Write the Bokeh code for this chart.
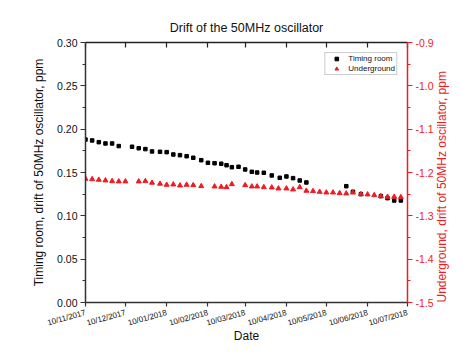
import numpy as np
import pandas as pd
from bokeh.plotting import figure
from bokeh.models import (Range1d, LinearAxis, DatetimeAxis, FixedTicker, DatetimeTickFormatter,
                          NumeralTickFormatter, Legend, LegendItem, CustomJSTickFormatter)
from bokeh.embed import file_html
from bokeh.resources import INLINE

# ---------------- data ----------------
start_date = "2017-11-10"
end_date = "2018-07-10"
tick_dates = ["2017-11-10", "2017-12-10", "2018-01-10", "2018-02-10", "2018-03-10",
              "2018-04-10", "2018-05-10", "2018-06-10", "2018-07-10"]
left_ticks = [0.00, 0.05, 0.10, 0.15, 0.20, 0.25, 0.30]
left_minor = [0.025, 0.075, 0.125, 0.175, 0.225, 0.275]
right_ticks = [-1.5, -1.4, -1.3, -1.2, -1.1, -1.0, -0.9]
right_minor = [-1.45, -1.35, -1.25, -1.15, -1.05, -0.95]

# days after start_date
timing_days = [0, 5, 10, 15, 20, 25, 35, 40, 45, 50, 56, 61, 66, 71, 76, 81, 87, 92, 97,
               102, 106, 110, 115, 120, 125, 129, 134, 140, 146, 151, 156, 161, 166,
               196, 201, 207, 222, 227, 232, 237]
timing_ppm = [0.188, 0.187, 0.185, 0.1835, 0.1835, 0.1805, 0.1797, 0.178, 0.177, 0.1743,
              0.1739, 0.1735, 0.1708, 0.170, 0.1688, 0.167, 0.1642, 0.1612, 0.1607,
              0.1601, 0.1584, 0.1561, 0.1566, 0.1535, 0.1508, 0.150, 0.1497, 0.1466,
              0.1439, 0.1454, 0.1435, 0.1408, 0.1385,
              0.1342, 0.1277, 0.125, 0.1227, 0.1204, 0.1177, 0.1177]

under_days = [0, 5, 10, 15, 20, 25, 30, 40, 45, 50, 56, 61, 66, 71, 76, 81, 87, 97, 102,
              106, 110, 120, 125, 129, 134, 140, 145, 151, 156, 161, 166, 171, 176, 181,
              186, 191, 196, 201, 207, 212, 217, 222, 227, 232, 237]
under_ppm = [-1.2145, -1.2154, -1.2168, -1.2184, -1.2200, -1.2207, -1.2207, -1.2207,
             -1.2200, -1.2237, -1.2260, -1.2284, -1.2277, -1.2300, -1.2284, -1.2293,
             -1.2316, -1.2323, -1.2330, -1.2339, -1.2270, -1.2293, -1.2323, -1.2323,
             -1.2339, -1.2346, -1.2369, -1.2369, -1.2392, -1.2339, -1.2422, -1.2430,
             -1.2446, -1.2462, -1.2462, -1.2477, -1.2484, -1.2462, -1.2500, -1.2507,
             -1.2523, -1.2546, -1.2561, -1.2561, -1.2569]

# ---------------- build ----------------
FONT = "Liberation Sans"
RED = "#ee1c24"
AX = "#333333"

t0 = pd.Timestamp(start_date)
timing_x = t0 + pd.to_timedelta(timing_days, unit="D")
under_x = t0 + pd.to_timedelta(under_days, unit="D")
tick_ms = [pd.Timestamp(d).timestamp() * 1000 for d in tick_dates]
x0 = pd.Timestamp(start_date).timestamp() * 1000
x1 = pd.Timestamp(end_date).timestamp() * 1000

p = figure(width=458, height=346, x_axis_type="datetime", output_backend="svg",
           toolbar_location=None, x_range=Range1d(x0, x1), y_range=Range1d(0, 0.30),
           min_border_left=85, min_border_right=50, min_border_top=42, min_border_bottom=44)
p.outline_line_color = None
p.grid.visible = False
p.background_fill_color = "white"
p.border_fill_color = "white"

p.title.text = "Drift of the 50MHz oscillator"
p.title.text_font = FONT
p.title.text_font_size = "12.5px"
p.title.text_font_style = "normal"
p.title.text_color = "#111111"
p.title.align = "center"
p.title.offset = 7
p.title.standoff = 15

# bottom axis
xa = p.below[0]
xa.ticker = FixedTicker(ticks=tick_ms)
fmt = "%d/%m/%Y"
xa.formatter = DatetimeTickFormatter(milliseconds=fmt, seconds=fmt, minsec=fmt, minutes=fmt,
                                     hourmin=fmt, hours=fmt, days=fmt, months=fmt, years=fmt)
xa.major_label_orientation = 0.27
xa.major_label_text_font = FONT
xa.major_label_text_font_size = "8px"
xa.major_label_text_color = "#111111"
xa.major_label_standoff = 6
xa.major_tick_out = 4
xa.major_tick_in = 0
xa.minor_tick_line_color = None
xa.axis_line_width = 1.5
xa.axis_line_color = AX
xa.major_tick_line_color = AX
xa.major_tick_line_width = 1.2
xa.axis_label = "Date"
xa.axis_label_text_font = FONT
xa.axis_label_text_font_size = "12px"
xa.axis_label_text_font_style = "normal"
xa.axis_label_text_color = "#111111"
xa.axis_label_standoff = -6

# left axis
ya = p.left[0]
ya.ticker = FixedTicker(ticks=left_ticks, minor_ticks=left_minor)
ya.formatter = NumeralTickFormatter(format="0.00")
ya.major_label_text_font = FONT
ya.major_label_text_font_size = "10.5px"
ya.major_label_text_color = "#111111"
ya.major_label_standoff = 3
ya.major_tick_out = 5
ya.major_tick_in = 0
ya.minor_tick_out = 3
ya.minor_tick_in = 0
ya.axis_line_width = 1.5
ya.axis_line_color = AX
ya.major_tick_line_color = AX
ya.minor_tick_line_color = AX
ya.major_tick_line_width = 1.2
ya.axis_label = "Timing room, drift of 50MHz oscillator, ppm"
ya.axis_label_text_font = FONT
ya.axis_label_text_font_size = "12px"
ya.axis_label_text_font_style = "normal"
ya.axis_label_text_color = "#111111"
ya.axis_label_standoff = 8

# right axis
p.extra_y_ranges = {"under": Range1d(-1.5, -0.9)}
ra = LinearAxis(y_range_name="under")
ra.ticker = FixedTicker(ticks=right_ticks, minor_ticks=right_minor)
ra.formatter = NumeralTickFormatter(format="0.0")
ra.major_label_text_font = FONT
ra.major_label_text_font_size = "10.5px"
ra.major_label_text_color = RED
ra.major_label_standoff = 3
ra.major_tick_out = 5
ra.major_tick_in = 0
ra.minor_tick_out = 3
ra.minor_tick_in = 0
ra.axis_line_width = 1.5
ra.axis_line_color = RED
ra.major_tick_line_color = RED
ra.minor_tick_line_color = RED
ra.major_tick_line_width = 1.2
ra.axis_label = "Underground, drift of 50MHz oscillator, ppm"
ra.axis_label_text_font = FONT
ra.axis_label_text_font_size = "12px"
ra.axis_label_text_font_style = "normal"
ra.axis_label_text_color = RED
ra.axis_label_standoff = 5
ra.axis_label_orientation = np.pi / 2
ra.axis_label_align = "start"
p.add_layout(ra, "right")

# top axis (frame line with inward ticks)
ta = DatetimeAxis(ticker=FixedTicker(ticks=tick_ms),
                  formatter=CustomJSTickFormatter(code="return ''"))
ta.major_tick_in = 5
ta.major_tick_out = 0
ta.minor_tick_line_color = None
ta.axis_line_width = 1.5
ta.axis_line_color = "#222222"
ta.major_tick_line_color = "#222222"
ta.major_tick_line_width = 1.2
ta.major_label_standoff = 0
ta.major_label_text_font_size = "1px"
p.add_layout(ta, "above")

r1 = p.scatter(timing_x, timing_ppm, marker="square", size=3.5, color="black")
r2 = p.scatter(under_x, under_ppm, marker="triangle", size=5, color=RED,
               y_range_name="under")

legend = Legend(items=[LegendItem(label="Timing room", renderers=[r1]),
                       LegendItem(label="Underground", renderers=[r2])],
                location="top_right", margin=10, padding=1, spacing=1,
                glyph_width=20, glyph_height=9, label_height=9, label_standoff=2,
                label_text_font=FONT, label_text_font_size="8px",
                label_text_color="#111111",
                border_line_color="#999999", border_line_width=1,
                background_fill_color="white", background_fill_alpha=1)
p.add_layout(legend)

open("out.html", "w").write(file_html(p, INLINE))
